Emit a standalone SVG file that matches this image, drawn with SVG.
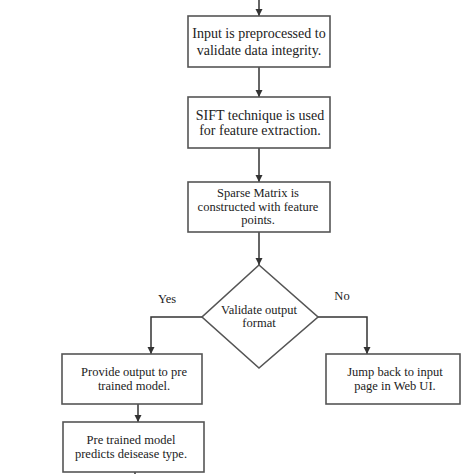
<svg xmlns="http://www.w3.org/2000/svg" width="474" height="474" viewBox="0 0 474 474">
<defs>
<marker id="ah" markerWidth="8" markerHeight="8" refX="7" refY="4" orient="auto" markerUnits="userSpaceOnUse">
<path d="M0,0.5 L7,4 L0,7.5 Z" fill="#333"/>
</marker>
<style>
.box{fill:#fff;stroke:#555;stroke-width:1.6}
.ln{fill:none;stroke:#333;stroke-width:1.5}
.t{fill:#222;text-anchor:middle}
.big{font-size:14px}
.sm{font-size:12.5px}
</style>
</defs>
<rect width="474" height="474" fill="#fff"/>
<g font-family="'Liberation Serif', 'DejaVu Serif', 'Times New Roman', serif">
<g id="connectors">
<path class="ln" d="M259,0 V16" marker-end="url(#ah)"/>
<path class="ln" d="M259,67 V97" marker-end="url(#ah)"/>
<path class="ln" d="M259,148 V182" marker-end="url(#ah)"/>
<path class="ln" d="M259,232 V265" marker-end="url(#ah)"/>
<path class="ln" d="M202,317 H151 V354" marker-end="url(#ah)"/>
<path class="ln" d="M318,317 H367 V354" marker-end="url(#ah)"/>
<path class="ln" d="M138,404 V422" marker-end="url(#ah)"/>
<path class="ln" d="M135,472 V474"/>
<text class="t sm" x="167" y="303">Yes</text>
<text class="t sm" x="342" y="300">No</text>
</g>
<g id="n1">
<rect class="box" x="188" y="16" width="142" height="51"/>
<text class="t big" x="259" y="38">Input is preprocessed to</text>
<text class="t big" x="259" y="55">validate data integrity.</text>
</g>
<g id="n2">
<rect class="box" x="188" y="97" width="142" height="51"/>
<text class="t big" x="260" y="120">SIFT technique is used</text>
<text class="t big" x="260" y="135">for feature extraction.</text>
</g>
<g id="n3">
<rect class="box" x="188" y="182" width="142" height="50"/>
<text class="t sm" x="258" y="197">Sparse Matrix is</text>
<text class="t sm" x="258" y="211">constructed with feature</text>
<text class="t sm" x="258" y="224">points.</text>
</g>
<g id="n4">
<polygon class="box" points="259,265 318,317 259,368 202,317"/>
<text class="t sm" x="259" y="314">Validate output</text>
<text class="t sm" x="259" y="327">format</text>
</g>
<g id="n5">
<rect class="box" x="62" y="354" width="140" height="50"/>
<text class="t sm" x="134" y="376">Provide output to pre</text>
<text class="t sm" x="134" y="390">trained model.</text>
</g>
<g id="n6">
<rect class="box" x="326" y="354" width="134" height="50"/>
<text class="t sm" x="395" y="376">Jump back to input</text>
<text class="t sm" x="395" y="390">page in Web UI.</text>
</g>
<g id="n7">
<rect class="box" x="63" y="422" width="141" height="50"/>
<text class="t sm" x="131" y="444">Pre trained model</text>
<text class="t sm" x="131" y="458">predicts deisease type.</text>
</g>
</g>
</svg>
